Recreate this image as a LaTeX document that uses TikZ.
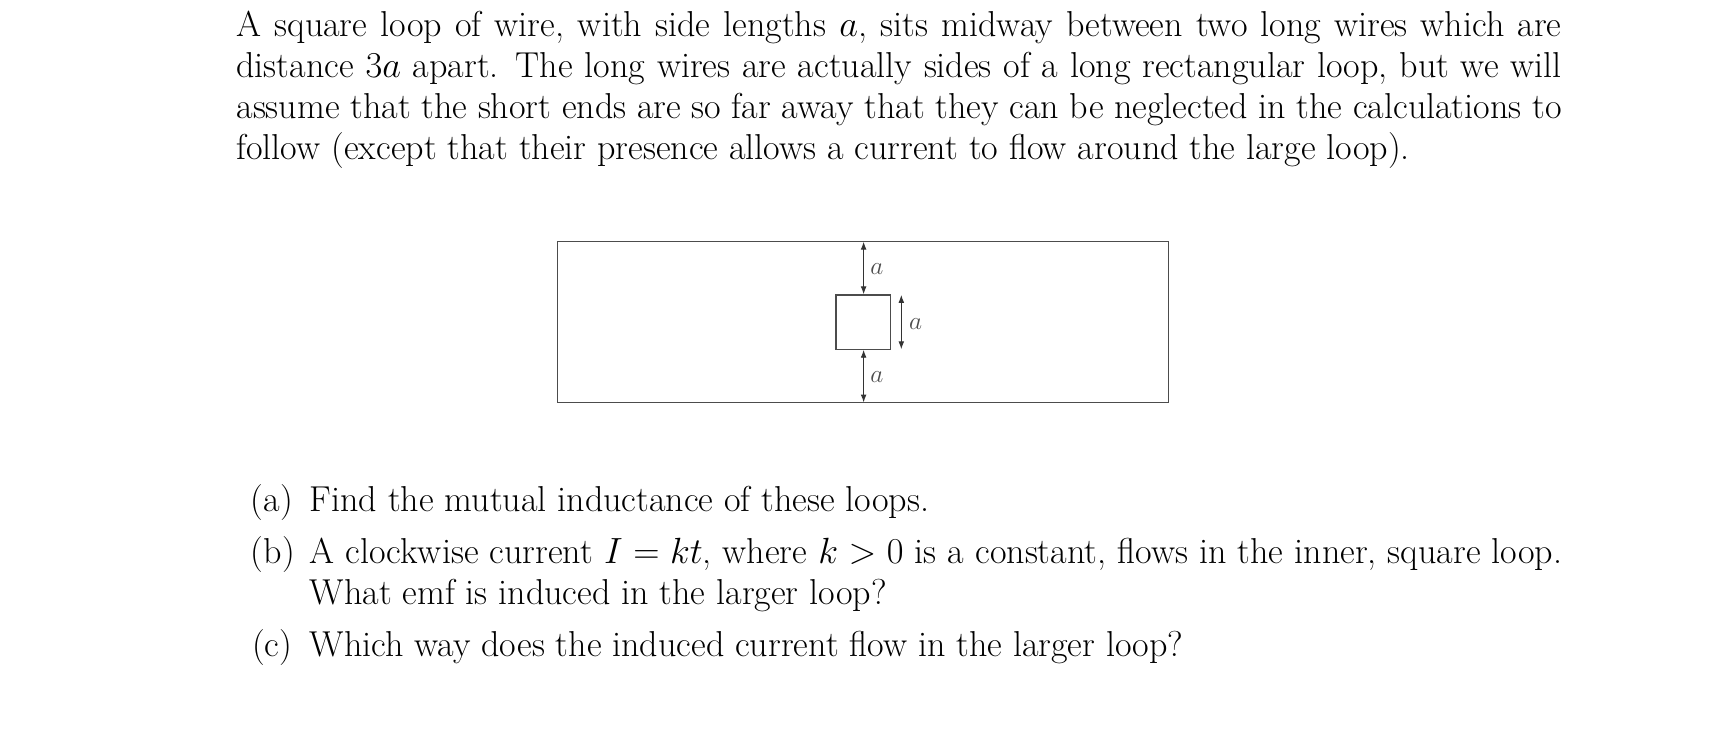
\documentclass[tikz,border=0pt]{standalone}
\usetikzlibrary{arrows.meta}
\begin{document}
\begin{tikzpicture}[x=0.02217cm,y=-0.02217cm,
  wire/.style={draw=black!70,line width=0.7pt},
  dim/.style={draw=black!80,line width=0.55pt,{Latex[length=4.5pt,width=3.3pt]}-{Latex[length=4.5pt,width=3.3pt]}},
  lbl/.style={font=\fontsize{14.5}{16}\selectfont,text=black!70,inner sep=1pt},
  txt/.style={font=\fontsize{20.5}{23.3}\selectfont,inner sep=0pt,align=justify}]
\clip (0,0) rectangle (1565,668);
\node[txt,anchor=north west,text width=26.5cm] (para) at (213,10) {A square loop of wire, with side lengths $a$, sits midway between two long wires which are distance $3a$ apart. The long wires are actually sides of a long rectangular loop, but we will assume that the short ends are so far away that they can be neglected in the calculations to follow (except that their presence allows a current to flow around the large loop).};
\draw[wire] (503,218) rectangle (1054,363);
\node[draw=black!70,line width=0.7pt,minimum width=1.086cm,minimum height=1.086cm,inner sep=0] (sq) at (778.5,290.5) {};
\coordinate (top) at (779,218);
\coordinate (bot) at (779,363);
\draw[dim] (top) -- (sq.north-|top);
\draw[dim] (sq.south-|top) -- (bot);
\draw[dim] (813,266) -- (813,315);
\node[lbl] (l1) at (791,243) {$a$};
\node[lbl] (l2) at (791,340) {$a$};
\node[lbl] (l3) at (826,292) {$a$};
\node[txt,anchor=base west] (ia) at (226,461) {(a)};
\node[txt,anchor=base west] (ta) at (279,461) {Find the mutual inductance of these loops.};
\node[txt,anchor=base west] (ib) at (226,508) {(b)};
\node[txt,anchor=base west,text width=25.05cm] (tb) at (279,508) {A clockwise current $I=kt$, where $k>0$ is a constant, flows in the inner, square loop. What emf is induced in the larger loop?};
\node[txt,anchor=base west] (ic) at (227,592) {(c)};
\node[txt,anchor=base west] (tc) at (279,592) {Which way does the induced current flow in the larger loop?};
\end{tikzpicture}
\end{document}
